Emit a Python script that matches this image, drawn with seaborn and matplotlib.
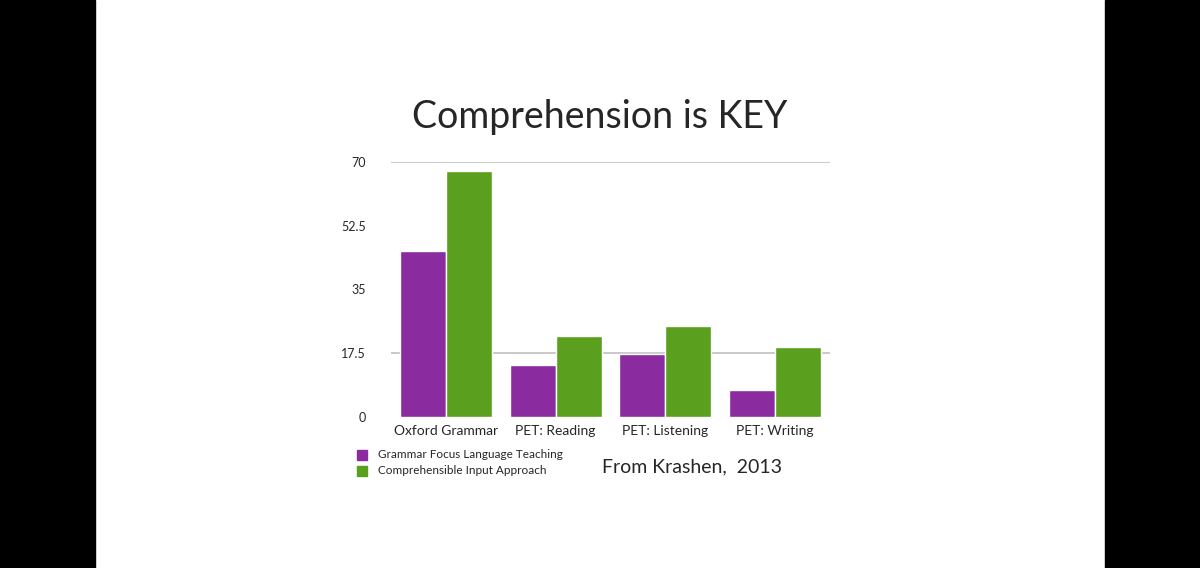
import matplotlib
matplotlib.use("Agg")
import matplotlib.pyplot as plt
from matplotlib.patches import Rectangle
import seaborn as sns
import pandas as pd

categories = ["Oxford Grammar", "PET: Reading", "PET: Listening", "PET: Writing"]
grammar = [45.6, 14.3, 17.3, 7.4]
comprehensible = [67.5, 22.2, 25.0, 19.2]
series = ["Grammar Focus Language Teaching", "Comprehensible Input Approach"]
yticks = [0, 17.5, 35, 52.5, 70]
ytick_labels = ["0", "17.5", "35", "52.5", "70"]

df = pd.DataFrame({
    "cat": categories * 2,
    "val": grammar + comprehensible,
    "series": [series[0]] * 4 + [series[1]] * 4,
})

sns.set_style("white")
plt.rcParams["font.family"] = ["Lato", "DejaVu Sans"]

fig = plt.figure(figsize=(12, 5.68), dpi=100)
fig.patches.append(Rectangle((0, 0), 95 / 1200, 1, transform=fig.transFigure, color="black", zorder=10))
fig.patches.append(Rectangle((1105 / 1200, 0), 95 / 1200, 1, transform=fig.transFigure, color="black", zorder=10))

ax = fig.add_axes([391 / 1200, 1 - 417 / 568, (830 - 391) / 1200, (417 - 162) / 568])
sns.barplot(data=df, x="cat", y="val", hue="series", palette=["#8a2ba0", "#5aa01e"],
            width=0.84, gap=0, ax=ax, legend=False, saturation=1)
ax.set_xlim(-0.5, 3.5)
ax.set_ylim(0, 70)
for y in [17.5, 70]:
    ax.axhline(y, color="#c0c0c0", lw=1.2, zorder=0)
ax.set_yticks(yticks, ytick_labels, fontsize=9)
ax.tick_params(axis="x", labelsize=10, length=0, pad=6)
ax.tick_params(axis="y", length=0, pad=18)
ax.set_xlabel("")
ax.set_ylabel("")
for s in ax.spines.values():
    s.set_visible(False)

fig.text(0.5, 1 - 117 / 568, "Comprehension is KEY", ha="center", va="center", fontsize=27)
cols = ["#8a2ba0", "#5aa01e"]
for i, (name, c) in enumerate(zip(series, cols)):
    yy = 1 - (455 + i * 16) / 568
    fig.patches.append(Rectangle((357 / 1200, yy - 5 / 568), 10 / 1200, 10 / 568, transform=fig.transFigure, color=c))
    fig.text(378 / 1200, yy, name, va="center", fontsize=8.5)
fig.text(602 / 1200, 1 - 467 / 568, "From Krashen,  2013", va="center", fontsize=14)

fig.savefig("out.png", dpi=100)
